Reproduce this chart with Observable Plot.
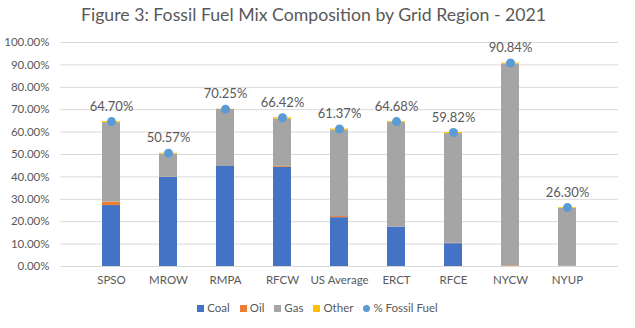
<!DOCTYPE html>
<html><head><meta charset="utf-8">
<script src="https://cdn.jsdelivr.net/npm/d3@7"></script>
<script src="https://cdn.jsdelivr.net/npm/@observablehq/plot@0.6"></script>
<style>
body{margin:0;background:#fff;font-family:Lato,"Open Sans",sans-serif;}
#wrap{position:relative;width:635px;height:328px;overflow:hidden;}
#title{position:absolute;top:4px;left:0;width:627px;text-align:center;font-size:17.7px;color:#595959;}
#chart{position:absolute;top:0;left:0;}
#legend{position:absolute;top:301px;left:0;width:635px;text-align:center;font-size:11.5px;color:#595959;}
#legend span.item{margin:0 5px;}
#legend i{display:inline-block;width:7px;height:7px;margin-right:3px;vertical-align:0px;}
</style></head>
<body><div id="wrap"><div id="title">Figure 3: Fossil Fuel Mix Composition by Grid Region - 2021</div><div id="chart"></div><div id="legend"></div></div>
<script>
const regions = ["SPSO","MROW","RMPA","RFCW","US Average","ERCT","RFCE","NYCW","NYUP"];
const coal  = [27.2, 39.8, 44.9, 44.3, 21.8, 17.6, 10.2, 0.0, 0.0];
const oil   = [1.6, 0.1, 0.1, 0.4, 0.5, 0.05, 0.2, 0.3, 0.1];
const gas   = [35.4, 10.3, 25.1, 21.1, 38.6, 46.6, 48.9, 90.1, 25.9];
const other = [0.5, 0.37, 0.15, 0.62, 0.47, 0.43, 0.52, 0.44, 0.3];
const fossil = [64.70, 50.57, 70.25, 66.42, 61.37, 64.68, 59.82, 90.84, 26.30];
const fuels = ["Coal","Oil","Gas","Other"];
const colors = ["#4472c4","#ed7d31","#a5a5a5","#ffc000"];
const yTicks = [0,0.1,0.2,0.3,0.4,0.5,0.6,0.7,0.8,0.9,1.0];

const series = [coal, oil, gas, other];
const stacked = [];
regions.forEach((r,i)=>fuels.forEach((f,j)=>stacked.push({region:r, fuel:f, value:series[j][i]/100})));
const points = regions.map((r,i)=>({region:r, value:fossil[i]/100}));

const chart = Plot.plot({
  width:635, height:290,
  marginTop:42, marginBottom:24, marginLeft:60, marginRight:17,
  style:{fontFamily:"Lato, 'Open Sans', sans-serif", fontSize:"11.5px", color:"#595959", background:"transparent"},
  x:{domain:regions, padding:0.69, label:null, tickSize:0, tickPadding:9},
  y:{domain:[0,1], ticks:yTicks, tickFormat:d3.format(".2%"), label:null, tickSize:0, tickPadding:11},
  color:{domain:fuels, range:colors},
  marks:[
    Plot.gridY(yTicks.slice(1), {stroke:"#d9d9d9", strokeOpacity:1, strokeWidth:1}),
    Plot.ruleY([0], {stroke:"#d9d9d9", strokeWidth:1}),
    Plot.barY(stacked, {x:"region", y:"value", fill:"fuel", order:fuels}),
    Plot.dot(points, {x:"region", y:"value", r:4.5, fill:"#5b9bd5", stroke:"none"}),
    Plot.text(points, {x:"region", y:"value", text:d=>d3.format(".2%")(d.value), dy:-15, fill:"#595959", fontSize:13})
  ]
});
document.getElementById("chart").appendChild(chart);

const leg = document.getElementById("legend");
fuels.forEach((f,i)=>{leg.insertAdjacentHTML("beforeend",`<span class="item"><i style="background:${colors[i]}"></i>${f}</span>`);});
leg.insertAdjacentHTML("beforeend",`<span class="item"><i style="background:#5b9bd5;border-radius:50%"></i>% Fossil Fuel</span>`);
</script></body></html>
